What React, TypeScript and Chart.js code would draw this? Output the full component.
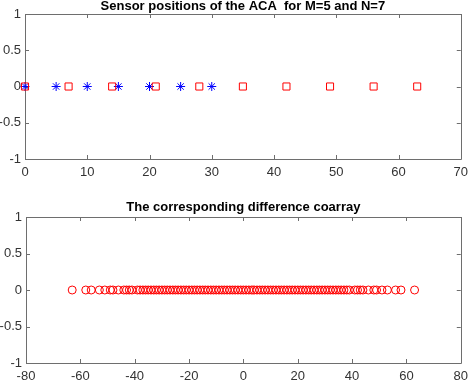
import React, { useEffect, useRef } from 'react';
import { Chart, registerables } from 'chart.js';

Chart.register(...registerables);

// ---- data ----
const subarrayN = [0, 5, 10, 15, 20, 25, 30];
const subarrayM = [0, 7, 14, 21, 28, 35, 42, 49, 56, 63];
const coarrayLags = [
  -63, -58, -56, -53, -51, -49, -48, -46, -44, -43, -42, -41,
  -39, -38, -37, -36, -35, -34, -33, -32, -31, -30,
  -29, -28, -27, -26, -25, -24, -23, -22, -21, -20,
  -19, -18, -17, -16, -15, -14, -13, -12, -11, -10,
  -9, -8, -7, -6, -5, -4, -3, -2, -1, 0,
  1, 2, 3, 4, 5, 6, 7, 8, 9, 10,
  11, 12, 13, 14, 15, 16, 17, 18, 19, 20,
  21, 22, 23, 24, 25, 26, 27, 28, 29, 30,
  31, 32, 33, 34, 35, 36, 37, 38, 39,
  41, 42, 43, 44, 46, 48, 49, 51, 53, 56, 58, 63,
];
const yTicks = [-1, -0.5, 0, 0.5, 1];
const topXTicks = [0, 10, 20, 30, 40, 50, 60, 70];
const bottomXTicks = [-80, -60, -40, -20, 0, 20, 40, 60, 80];
const topTitle = 'Sensor positions of the ACA  for M=5 and N=7';
const bottomTitle = 'The corresponding difference coarray';

const FONT = '"Liberation Sans", Arial, Helvetica, sans-serif';
const TEXT_COLOR = '#333333';
const AXIS_COLOR = '#6e6e6e';

function makeBoxPlugin(title: string, titleY: number) {
  return {
    id: 'matlabBox',
    beforeDatasetsDraw(chart: any) {
      const { ctx, chartArea } = chart;
      const { left, right, top, bottom } = chartArea;
      const xs = chart.scales.x;
      const ys = chart.scales.y;
      const tl = 4;
      ctx.save();
      ctx.strokeStyle = AXIS_COLOR;
      ctx.lineWidth = 1;
      ctx.beginPath();
      ctx.rect(Math.round(left) + 0.5, Math.round(top) + 0.5, Math.round(right - left), Math.round(bottom - top));
      ctx.stroke();
      ctx.beginPath();
      xs.ticks.forEach((t: any) => {
        const px = Math.round(xs.getPixelForValue(t.value)) + 0.5;
        ctx.moveTo(px, bottom);
        ctx.lineTo(px, bottom - tl);
        ctx.moveTo(px, top);
        ctx.lineTo(px, top + tl);
      });
      ys.ticks.forEach((t: any) => {
        const py = Math.round(ys.getPixelForValue(t.value)) + 0.5;
        ctx.moveTo(left, py);
        ctx.lineTo(left + tl, py);
        ctx.moveTo(right, py);
        ctx.lineTo(right - tl, py);
      });
      ctx.stroke();
      ctx.restore();
    },
    afterDraw(chart: any) {
      const { ctx, chartArea } = chart;
      ctx.save();
      ctx.fillStyle = '#000';
      ctx.font = `bold 13px ${FONT}`;
      ctx.textAlign = 'center';
      ctx.textBaseline = 'alphabetic';
      ctx.fillText(title, (chartArea.left + chartArea.right) / 2, titleY);
      ctx.restore();
    },
  };
}

function baseScales(xMin: number, xMax: number, xTickVals: number[], yWidth: number, xHeight: number) {
  return {
    x: {
      type: 'linear',
      min: xMin,
      max: xMax,
      afterBuildTicks: (s: any) => { s.ticks = xTickVals.map((v) => ({ value: v })); },
      afterFit: (s: any) => { s.height = xHeight; },
      grid: { display: false, drawTicks: false },
      border: { display: false },
      ticks: {
        color: TEXT_COLOR,
        font: { family: FONT, size: 13 },
        padding: 6,
        maxRotation: 0,
        autoSkip: false,
        callback: (v: any) => String(v),
      },
    },
    y: {
      type: 'linear',
      min: -1,
      max: 1,
      afterBuildTicks: (s: any) => { s.ticks = yTicks.map((v) => ({ value: v })); },
      afterFit: (s: any) => { s.width = yWidth; },
      grid: { display: false, drawTicks: false },
      border: { display: false },
      ticks: {
        color: TEXT_COLOR,
        font: { family: FONT, size: 13 },
        padding: 4,
        autoSkip: false,
        callback: (v: any) => String(v),
      },
    },
  };
}

function TopChart() {
  const ref = useRef<HTMLCanvasElement>(null);
  useEffect(() => {
    const chart = new Chart(ref.current!, {
      type: 'scatter',
      data: {
        datasets: [
          {
            data: subarrayM.map((x) => ({ x, y: 0 })),
            pointStyle: 'rect',
            radius: 5,
            borderColor: '#ff0000',
            backgroundColor: 'rgba(0,0,0,0)',
            borderWidth: 1,
            clip: false,
          },
          {
            data: subarrayN.map((x) => ({ x, y: 0 })),
            pointStyle: 'star',
            radius: 4.5,
            borderColor: '#0000ff',
            backgroundColor: 'rgba(0,0,0,0)',
            borderWidth: 1,
            clip: false,
          },
        ],
      },
      options: {
        responsive: false,
        animation: false,
        events: [],
        layout: { padding: { top: 14, right: 7, left: 0, bottom: 0 } },
        plugins: { legend: { display: false }, title: { display: false }, tooltip: { enabled: false } },
        scales: baseScales(0, 70, topXTicks, 25, 31) as any,
      },
      plugins: [makeBoxPlugin(topTitle, 10)],
    });
    return () => chart.destroy();
  }, []);
  return <canvas ref={ref} width={474} height={190} style={{ display: 'block' }} />;
}

function BottomChart() {
  const ref = useRef<HTMLCanvasElement>(null);
  useEffect(() => {
    const chart = new Chart(ref.current!, {
      type: 'scatter',
      data: {
        datasets: [
          {
            data: coarrayLags.map((x) => ({ x, y: 0 })),
            pointStyle: 'circle',
            radius: 4,
            borderColor: '#ff0000',
            backgroundColor: 'rgba(0,0,0,0)',
            borderWidth: 1,
            clip: false,
          },
        ],
      },
      options: {
        responsive: false,
        animation: false,
        events: [],
        layout: { padding: { top: 27, right: 7, left: 0, bottom: 0 } },
        plugins: { legend: { display: false }, title: { display: false }, tooltip: { enabled: false } },
        scales: baseScales(-80, 80, bottomXTicks, 26, 17) as any,
      },
      plugins: [makeBoxPlugin(bottomTitle, 21)],
    });
    return () => chart.destroy();
  }, []);
  return <canvas ref={ref} width={474} height={190} style={{ display: 'block' }} />;
}

export default function App() {
  return (
    <div style={{ position: 'fixed', left: 0, top: 0, width: 474, height: 380, background: '#fff', overflow: 'hidden' }}>
      <TopChart />
      <BottomChart />
    </div>
  );
}
